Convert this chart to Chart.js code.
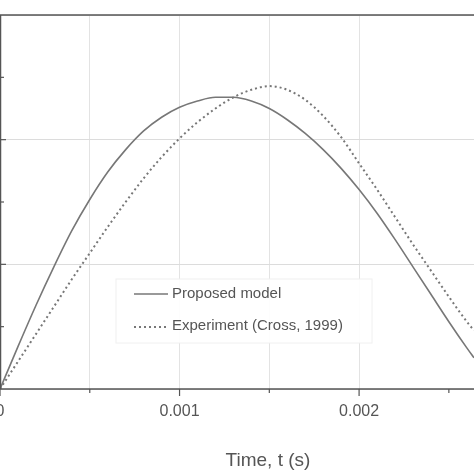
<!DOCTYPE html><html><head><style>html,body{margin:0;background:#fff}#w{width:474px;height:474px}</style>
<script src="https://cdn.jsdelivr.net/npm/chart.js@4"></script></head><body><div id="w"><canvas id="c"></canvas></div>
<script>
const times=[0,0.0001,0.0002,0.0003,0.0004,0.0005,0.0006,0.0007,0.0008,0.0009,0.001,0.0011,0.0012,0.0013,0.0014,0.0015,0.0016,0.0017,0.0018,0.0019,0.002,0.0021,0.0022,0.0023,0.0024,0.0025,0.0026,0.00264];
const model=[0,0.34,0.67,0.98,1.27,1.52,1.74,1.92,2.07,2.18,2.26,2.31,2.34,2.34,2.31,2.25,2.16,2.05,1.92,1.77,1.60,1.41,1.20,0.98,0.76,0.54,0.33,0.25];
const experiment=[0,0.22,0.44,0.66,0.88,1.09,1.3,1.5,1.69,1.86,2.01,2.14,2.25,2.34,2.40,2.43,2.40,2.32,2.19,2.02,1.81,1.6,1.38,1.16,0.95,0.74,0.54,0.47];
const xTickLabels=['0','0.001','0.002'];
const xTickValues=[0,0.001,0.002];
const legendLabels=['Proposed model','Experiment (Cross, 1999)'];
const pts=a=>a.map((v,i)=>({x:times[i],y:v}));
const deco={id:'deco',afterDraw(ch){const c=ch.ctx,a=ch.chartArea,x=ch.scales.x,y=ch.scales.y;c.save();
c.strokeStyle='#555';c.lineWidth=1.5;c.beginPath();c.moveTo(a.left,a.top);c.lineTo(a.right,a.top);c.moveTo(a.left,a.bottom);c.lineTo(a.right,a.bottom);c.moveTo(a.left+0.5,a.top);c.lineTo(a.left+0.5,a.bottom);c.stroke();
c.lineWidth=1.2;for(let v=0;v<=0.00264;v+=0.0005){const px=x.getPixelForValue(v);const maj=Math.abs(v/0.001-Math.round(v/0.001))<1e-6;c.beginPath();c.moveTo(px,a.bottom);c.lineTo(px,a.bottom+(maj?7:4));c.stroke();}
for(let v=0.5;v<3;v+=0.5){const py=y.getPixelForValue(v);c.beginPath();c.moveTo(a.left,py);c.lineTo(a.left+(v%1===0?6:4),py);c.stroke();}
c.fillStyle='#555';c.font='16px "Liberation Sans", Arial';c.textAlign='center';c.textBaseline='middle';
xTickLabels.forEach((t,i)=>c.fillText(t,x.getPixelForValue(xTickValues[i]),412));
c.font='19px "Liberation Sans", Arial';c.fillText('Time, t (s)',268,461);
c.fillStyle='rgba(255,255,255,0.9)';c.fillRect(116,279,256,64);c.strokeStyle='#f0f0f0';c.lineWidth=1;c.strokeRect(116,279,256,64);
c.strokeStyle='#777';c.lineWidth=1.5;c.beginPath();c.moveTo(134,294);c.lineTo(168,294);c.stroke();
c.setLineDash([2,3]);c.lineWidth=2;c.beginPath();c.moveTo(134,327);c.lineTo(168,327);c.stroke();c.setLineDash([]);
c.fillStyle='#555';c.textAlign='left';c.font='15px "Liberation Sans", Arial';c.fillText(legendLabels[0],172,294);c.fillText(legendLabels[1],172,326);
c.restore();}};
new Chart(document.getElementById('c'),{type:'line',data:{datasets:[
{data:pts(model),borderColor:'#777',borderWidth:1.6,pointRadius:0,cubicInterpolationMode:'monotone',fill:false},
{data:pts(experiment),borderColor:'#777',borderWidth:2,borderDash:[2,3],pointRadius:0,cubicInterpolationMode:'monotone',fill:false}]},
options:{responsive:true,maintainAspectRatio:false,animation:false,layout:{padding:{top:15,bottom:85,left:0,right:0}},
plugins:{legend:{display:false},tooltip:{enabled:false}},
scales:{x:{type:'linear',min:0,max:0.00264,border:{display:false},ticks:{display:false,stepSize:0.0005},grid:{color:'#e3e3e3',drawTicks:false}},
y:{min:0,max:3,border:{display:false},ticks:{display:false,stepSize:1},grid:{color:'#dcdcdc',drawTicks:false}}}},plugins:[deco]});
</script></body></html>
